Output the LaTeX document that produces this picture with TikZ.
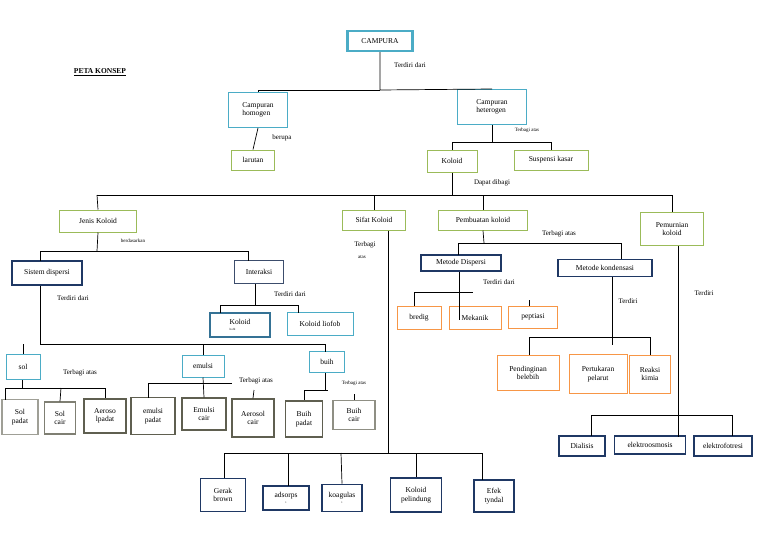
\documentclass[tikz,border=0pt]{standalone}
\usepackage{fontspec}
\setmainfont{Liberation Serif}
\definecolor{lb}{HTML}{4BACC6}
\definecolor{gr}{HTML}{9BBB59}
\definecolor{nv}{HTML}{1F3864}
\definecolor{og}{HTML}{F79646}
\definecolor{gy}{HTML}{5F5F50}
\begin{document}
\begin{tikzpicture}[x=1pt,y=-1pt,
 bx/.style={draw,line width=1pt,inner sep=1pt,align=center,font=\fontsize{7.5}{8.5}\selectfont},
 L/.style={bx,draw=lb}, G/.style={bx,draw=gr}, N/.style={bx,draw=nv,line width=1.6pt},
 O/.style={bx,draw=og}, Y/.style={bx,draw=gy,line width=1.4pt},
 lbl/.style={font=\fontsize{7}{8}\selectfont},
 sm/.style={font=\fontsize{5}{6}\selectfont},
 ln/.style={line width=0.7pt}]
\useasboundingbox (0,0) rectangle (768,543);
\newcommand\bx[6]{\node[#1,minimum width=#4-#2,minimum height=#5-#3] (#6) at ({(#2+#4)/2},{(#3+#5)/2}) {};}
% boxes
\node[bx,draw=lb,line width=2.5pt,minimum width=65,minimum height=20] (camp) at (380,41) {CAMPURA};
\node[font=\fontsize{7.5}{8}\selectfont\bfseries] (peta) at (100,72) {\underline{PETA KONSEP}};
\node[L,minimum width=59,minimum height=35,align=left] (hom) at (258,110) {Campuran\\homogen};
\node[L,minimum width=69,minimum height=35,align=left] (het) at (492,107) {Campuran\\heterogen};
\node[G,minimum width=43,minimum height=20] (lar) at (253,160) {larutan};
\node[G,minimum width=50,minimum height=22] (kol) at (452,161) {Koloid};
\node[G,minimum width=74,minimum height=20] (sus) at (551,160) {Suspensi kasar};
\node[G,minimum width=77,minimum height=22] (jen) at (98,221) {Jenis Koloid};
\node[G,minimum width=63,minimum height=20] (sif) at (374,220) {Sifat Koloid};
\node[G,minimum width=89,minimum height=20] (pem) at (483,220) {Pembuatan koloid};
\node[G,minimum width=63,minimum height=33] (pmr) at (672,229) {Pemurnian\\koloid};
\node[N,minimum width=70,minimum height=24] (sis) at (47,273) {Sistem dispersi};
\node[Y,draw=nv!70!gray,minimum width=49,minimum height=23] (int) at (259,272) {Interaksi};
\node[N,draw=lb!50!nv,minimum width=60,minimum height=24,align=left] (liof) at (240,325) {Koloid\\[-2pt]{\fontsize{3}{3}\selectfont liofil}};
\node[L,minimum width=66,minimum height=23] (liob) at (320,324) {Koloid liofob};
\node[L,minimum width=34,minimum height=25] (sol) at (23,367) {sol};
\node[L,minimum width=42,minimum height=22] (emu) at (203,366) {emulsi};
\node[L,minimum width=35,minimum height=21] (buih) at (327,362) {buih};
\node[Y,draw=gy!60,minimum width=36,minimum height=35] (sp) at (20,417) {Sol\\padat};
\node[Y,draw=gy!80,minimum width=31,minimum height=32] (sc) at (60,418) {Sol\\cair};
\node[Y,minimum width=42,minimum height=34] (ap) at (105,416) {Aeroso\\lpadat};
\node[Y,minimum width=44,minimum height=37] (ep) at (153,416) {emulsi\\padat};
\node[Y,minimum width=44,minimum height=32] (ec) at (204,414) {Emulsi\\cair};
\node[Y,minimum width=42,minimum height=38] (ac) at (253,418) {Aerosol\\cair};
\node[Y,minimum width=37,minimum height=36] (bp) at (304,419) {Buih\\padat};
\node[Y,draw=gy!70,minimum width=42,minimum height=29] (bc) at (354,415) {Buih\\cair};
\node[N,minimum width=80,minimum height=16] (md) at (461,263) {Metode Dispersi};
\node[N,minimum width=94,minimum height=17] (mk) at (605,268) {Metode kondensasi};
\node[O,minimum width=44,minimum height=23] (bre) at (419,318) {bredig};
\node[O,minimum width=52,minimum height=23] (mek) at (475,318) {Mekanik};
\node[O,minimum width=49,minimum height=22] (pep) at (533,317) {peptiasi};
\node[O,minimum width=62,minimum height=35] (pen) at (528,373) {Pendinginan\\belebih};
\node[O,minimum width=58,minimum height=39] (per) at (598,374) {Pertukaran\\pelarut};
\node[O,minimum width=41,minimum height=38] (rea) at (650,374) {Reaksi\\kimia};
\node[N,minimum width=46,minimum height=20] (dia) at (582,446) {Dialisis};
\node[N,minimum width=71,minimum height=18] (eos) at (650,445) {elektroosmosis};
\node[N,minimum width=58,minimum height=20] (efo) at (723,446) {elektrofotresi};
\node[N,minimum width=45,minimum height=33] (ger) at (223,495) {Gerak\\brown};
\node[N,minimum width=46,minimum height=24] (ads) at (286,498) {adsorps\\[-3pt]{\fontsize{3}{3}\selectfont i}};
\node[N,minimum width=40,minimum height=27] (koa) at (342,498) {koagulas\\[-3pt]{\fontsize{3}{3}\selectfont i}};
\node[N,minimum width=51,minimum height=34] (kpe) at (416,495) {Koloid\\pelindung};
\node[N,minimum width=40,minimum height=32] (efk) at (494,496) {Efek\\tyndal};
% labels
\node[lbl] at (410,65) {Terdiri dari};
\node[lbl] at (282,138) {berupa};
\node[sm] at (527,130) {Terbagi atas};
\node[lbl] at (492,183) {Dapat dibagi};
\node[sm] at (133,241) {berdasarkan};
\node[lbl] at (365,245) {Terbagi};
\node[sm] at (362,257) {atas};
\node[lbl] at (73,298) {Terdiri dari};
\node[lbl] at (290,294) {Terdiri dari};
\node[lbl] at (80,373) {Terbagi atas};
\node[lbl] at (256,381) {Terbagi atas};
\node[sm] at (354,383) {Terbagi atas};
\node[lbl] at (559,234) {Terbagi atas};
\node[lbl] at (499,282) {Terdiri dari};
\node[lbl] at (628,301) {Terdiri};
\node[lbl] at (704,293) {Terdiri};
% connectors
\draw[ln] (camp.south) -- (380,90) -- (het.north);
\draw[ln] (380,90) -| (hom.north);
\draw[ln] (hom.south) -- (lar.north);
\draw[ln] (het.south) -- (492,142) -| (kol.north);
\draw[ln] (492,142) -| (sus.north);
\draw[ln] (kol.south) -- (452,195);
\draw[ln] (97,195) -- (672,195);
\draw[ln] (97,195) -- (jen.north); \draw[ln] (374,195) -- (sif.north);
\draw[ln] (483,195) -- (pem.north); \draw[ln] (672,195) -- (pmr.north);
\draw[ln] (jen.south) -- (97,251); \draw[ln] (40,251) -- (248,251);
\draw[ln] (40,251) -- (40,261); \draw[ln] (248,251) -- (248,261);
\draw[ln] (sis.south -| 40,0) -- (40,344); \draw[ln] (40,344) -- (325,344);
\draw[ln] (23,344) -- (sol.north); \draw[ln] (203,344) -- (emu.north); \draw[ln] (325,344) -- (325,352);
\draw[ln] (int.south -| 255,0) -- (255,305); \draw[ln] (220,305) -- (298,305);
\draw[ln] (220,305) -- (220,313); \draw[ln] (298,305) -- (298,313);
\draw[ln] (sol.south -| 22,0) -- (22,388); \draw[ln] (5,388) -- (105,388);
\draw[ln] (5,388) -- (5,400); \draw[ln] (61,388) -- (sc.north); \draw[ln] (105,388) -- (ap.north);
\draw[ln] (emu.south) -- (ec.north); \draw[ln] (148,383) -- (232,383); \draw[ln] (148,383) -- (148,398);
\draw[ln] (254,390) -- (ac.north);
\draw[ln] (buih.south -| 325,0) -- (325,390); \draw[ln] (304,390) -- (328,390); \draw[ln] (304,390) -- (bp.north);
\draw[ln] (354,394) -- (bc.north);
\draw[ln] (sif.south -| 388,0) -- (388,453); \draw[ln] (224,453) -- (482,453);
\draw[ln] (224,453) -- (ger.north -| 224,0); \draw[ln] (288,453) -- (288,486); \draw[ln] (341,453) -- (koa.north);
\draw[ln] (416,453) -- (kpe.north); \draw[ln] (482,453) -- (482,480);
\draw[ln] (pem.south) -- (484,243); \draw[ln] (458,243) -- (621,243);
\draw[ln] (458,243) -- (458,255); \draw[ln] (621,243) -- (621,259);
\draw[ln] (md.south -| 459,0) -- (459,320); \draw[ln] (414,292) -- (473,292); \draw[ln] (414,292) -- (414,306);
\draw[ln] (529,300) -- (pep.north -| 529,0);
\draw[ln] (mk.south -| 612,0) -- (612,345); \draw[ln] (529,337) -- (650,337);
\draw[ln] (529,337) -- (529,355); \draw[ln] (650,337) -- (650,355);
\draw[ln] (pmr.south -| 678,0) -- (678,437); \draw[ln] (591,415) -- (732,415);
\draw[ln] (591,415) -- (591,436); \draw[ln] (732,415) -- (732,436);
\end{tikzpicture}
\end{document}
